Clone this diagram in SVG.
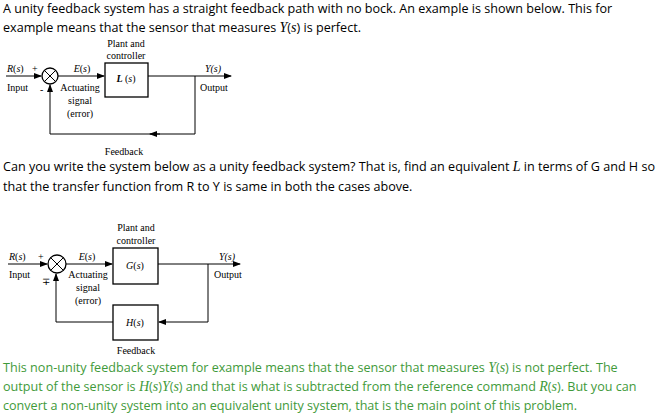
<svg xmlns="http://www.w3.org/2000/svg" width="672" height="417" viewBox="0 0 672 417">
<style>
.p{font-family:"Open Sans","Liberation Sans",sans-serif;font-size:12.6px;fill:#000}
.g{fill:#3f9a3a}
.m{font-family:"Liberation Serif",serif;font-style:italic;font-size:14px}
.d{font-family:"Liberation Serif",serif;font-size:10px;fill:#000}
.l{stroke:#000;stroke-width:1;fill:none}
.b{stroke:#000;stroke-width:1.3;fill:#fff}
</style>
<defs><marker id="a" markerWidth="8" markerHeight="6" refX="7" refY="3" orient="auto" markerUnits="userSpaceOnUse"><path d="M0,0L8,3L0,6z" fill="#000"/></marker></defs>
<rect width="672" height="417" fill="#fff"/>
<text class="p" x="3" y="13">A unity feedback system has a straight feedback path with no bock. An example is shown below. This for</text>
<text class="p" x="3" y="32">example means that the sensor that measures <tspan class="m">Y</tspan>(<tspan class="m">s</tspan>) is perfect.</text>
<text class="p" x="3" y="171">Can you write the system below as a unity feedback system? That is, find an equivalent <tspan class="m">L</tspan> in terms of G and H so</text>
<text class="p" x="3" y="191">that the transfer function from R to Y is same in both the cases above.</text>
<text class="p g" x="3" y="372">This non-unity feedback system for example means that the sensor that measures <tspan class="m">Y</tspan>(<tspan class="m">s</tspan>) is not perfect. The</text>
<text class="p g" x="3" y="391">output of the sensor is <tspan class="m">H</tspan>(<tspan class="m">s</tspan>)<tspan class="m">Y</tspan>(<tspan class="m">s</tspan>) and that is what is subtracted from the reference command <tspan class="m">R</tspan>(<tspan class="m">s</tspan>). But you can</text>
<text class="p g" x="3" y="410">convert a non-unity system into an equivalent unity system, that is the main point of this problem.</text>
<g id="connectors">
<path class="l" d="M6,76H41" marker-end="url(#a)"/>
<path class="l" d="M58,76H104" marker-end="url(#a)"/>
<path class="l" d="M148,76H231" marker-end="url(#a)"/>
<path class="l" d="M195,76V134H50V85" marker-end="url(#a)"/>
<path class="l" d="M160,134H150" marker-end="url(#a)"/>
<path class="l" d="M8,264H47" marker-end="url(#a)"/>
<path class="l" d="M66,264H112" marker-end="url(#a)"/>
<path class="l" d="M158,264H240" marker-end="url(#a)"/>
<path class="l" d="M208,264V322H159" marker-end="url(#a)"/>
<path class="l" d="M113,322H56V274" marker-end="url(#a)"/>
</g>
<g id="sum1"><circle class="b" cx="50" cy="76" r="8"/><path class="l" d="M44.3,70.3L55.7,81.7M55.7,70.3L44.3,81.7"/>
<text class="d" x="32" y="72">+</text><text class="d" x="40" y="93">-</text></g>
<g id="L"><rect class="b" x="105" y="63" width="43" height="34"/><text class="d" x="126" y="82" text-anchor="middle"><tspan font-weight="bold" font-style="italic">L</tspan> (<tspan font-style="italic">s</tspan>)</text></g>
<g id="labels1">
<text class="d" x="126" y="47" text-anchor="middle">Plant and</text><text class="d" x="126" y="59" text-anchor="middle">controller</text>
<text class="d" x="7" y="72"><tspan font-style="italic">R</tspan>(<tspan font-style="italic">s</tspan>)</text><text class="d" x="7" y="91">Input</text>
<text class="d" x="82" y="72" text-anchor="middle"><tspan font-style="italic">E</tspan>(<tspan font-style="italic">s</tspan>)</text>
<text class="d" x="80" y="91" text-anchor="middle">Actuating</text><text class="d" x="80" y="104" text-anchor="middle">signal</text><text class="d" x="80" y="117" text-anchor="middle">(error)</text>
<text class="d" x="213" y="72" text-anchor="middle" font-style="italic">Y(s)</text><text class="d" x="214" y="91" text-anchor="middle">Output</text>
<text class="d" x="124" y="155" text-anchor="middle">Feedback</text></g>
<g id="sum2"><circle class="b" cx="57" cy="264" r="9"/><path class="l" d="M50.6,257.6L63.4,270.4M63.4,257.6L50.6,270.4"/>
<text class="d" x="38" y="260">+</text><text class="d" x="42" y="285">∓</text></g>
<g id="G"><rect class="b" x="113" y="248" width="45" height="36"/><text class="d" x="135" y="269" text-anchor="middle"><tspan font-style="italic">G</tspan>(<tspan font-style="italic">s</tspan>)</text></g>
<g id="H"><rect class="b" x="113" y="305" width="45" height="35"/><text class="d" x="135" y="326" text-anchor="middle"><tspan font-style="italic">H</tspan>(<tspan font-style="italic">s</tspan>)</text></g>
<g id="labels2">
<text class="d" x="136" y="231" text-anchor="middle">Plant and</text><text class="d" x="136" y="244" text-anchor="middle">controller</text>
<text class="d" x="9" y="260"><tspan font-style="italic">R</tspan>(<tspan font-style="italic">s</tspan>)</text><text class="d" x="9" y="278">Input</text>
<text class="d" x="87" y="260" text-anchor="middle"><tspan font-style="italic">E</tspan>(<tspan font-style="italic">s</tspan>)</text>
<text class="d" x="88" y="278" text-anchor="middle">Actuating</text><text class="d" x="88" y="291" text-anchor="middle">signal</text><text class="d" x="88" y="304" text-anchor="middle">(error)</text>
<text class="d" x="227" y="260" text-anchor="middle" font-style="italic">Y(s)</text><text class="d" x="228" y="278" text-anchor="middle">Output</text>
<text class="d" x="136" y="354" text-anchor="middle">Feedback</text></g>
</svg>
